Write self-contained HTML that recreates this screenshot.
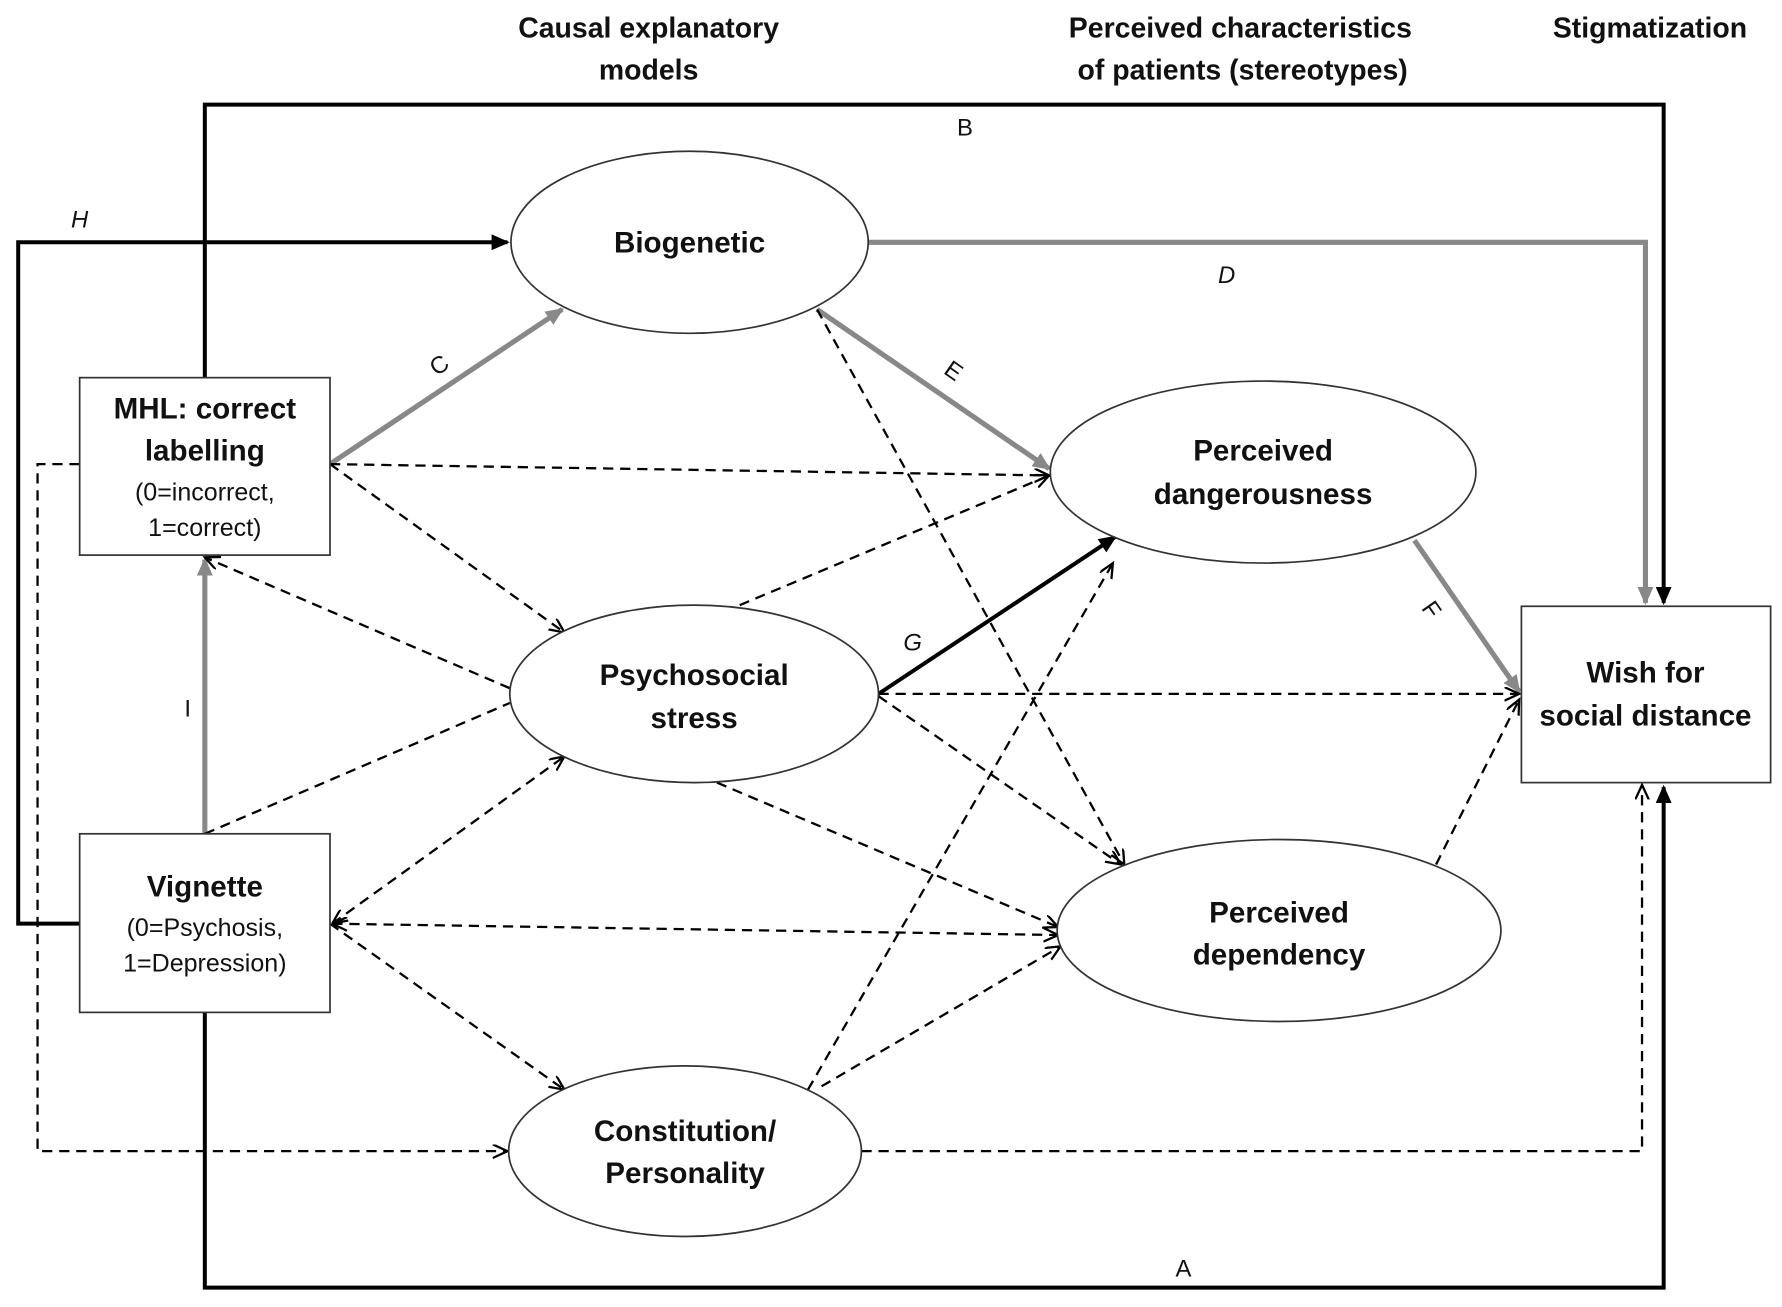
<!DOCTYPE html>
<html><head><meta charset="utf-8"><style>
html,body{margin:0;padding:0;background:#fff;}
svg{display:block;}
text{font-family:"Liberation Sans",sans-serif;fill:#111;}
.h{font-weight:bold;font-size:25px;}
.n{font-weight:bold;font-size:26px;}
.s{font-size:22px;}
.l{font-size:21px;}
</style></head><body>
<svg width="1782" height="1307" viewBox="0 0 1566 1149" preserveAspectRatio="none" xmlns="http://www.w3.org/2000/svg">
<defs>
<marker id="ab" markerWidth="10" markerHeight="10" refX="8" refY="5" orient="auto" markerUnits="userSpaceOnUse"><path d="M0,0 L10,5 L0,10 Z" fill="#000" transform="scale(1.4) translate(-3,-1.4)"/></marker>
<marker id="ag" markerWidth="18" markerHeight="18" refX="14" refY="7" orient="auto" markerUnits="userSpaceOnUse"><path d="M0,0 L16,7 L0,14 Z" fill="#888"/></marker>
<marker id="ak" markerWidth="18" markerHeight="18" refX="14" refY="7" orient="auto" markerUnits="userSpaceOnUse"><path d="M0,0 L16,7 L0,14 Z" fill="#000"/></marker>
<marker id="ad" markerWidth="16" markerHeight="16" refX="13" refY="6" orient="auto" markerUnits="userSpaceOnUse"><path d="M0,0 L13,6 L0,12" fill="none" stroke="#000" stroke-width="2"/></marker>
<marker id="ads" markerWidth="16" markerHeight="16" refX="0" refY="6" orient="auto" markerUnits="userSpaceOnUse"><path d="M13,0 L0,6 L13,12" fill="none" stroke="#000" stroke-width="2"/></marker>
</defs>
<rect width="1566" height="1149" fill="#fff"/>
<g text-anchor="middle">
<text class="h" x="570" y="33">Causal explanatory</text>
<text class="h" x="570" y="70">models</text>
<text class="h" x="1090" y="33">Perceived characteristics</text>
<text class="h" x="1092" y="70">of patients (stereotypes)</text>
<text class="h" x="1450" y="33">Stigmatization</text>
</g>
<!-- solid black -->
<g fill="none" stroke="#000" stroke-width="3.5">
<path d="M180,332 V92 H1462 V530" marker-end="url(#ak)"/>
<path d="M180,890 V1132 H1462 V692" marker-end="url(#ak)"/>
<path d="M70,812 H16 V213 H446" marker-end="url(#ak)"/>
<path d="M772,610 L980,472" marker-end="url(#ak)"/>
</g>
<!-- gray -->
<g fill="none" stroke="#888" stroke-width="4.5">
<path d="M290,408 L494,272" marker-end="url(#ag)"/>
<path d="M763,213 H1446 V530" marker-end="url(#ag)"/>
<path d="M718,272 L922,412" marker-end="url(#ag)"/>
<path d="M1243,475 L1335,608" marker-end="url(#ag)"/>
<path d="M180,733 V492" marker-end="url(#ag)"/>
</g>
<!-- dashed -->
<g fill="none" stroke="#000" stroke-width="2" stroke-dasharray="9,6">
<path d="M70,408 H33 V1012 H446" marker-end="url(#ad)"/>
<path d="M290,408 L922,418" marker-end="url(#ad)"/>
<path d="M290,408 L496,556" marker-end="url(#ad)"/>
<path d="M448,605 L180,490" marker-end="url(#ad)"/>
<path d="M180,733 L448,618"/>
<path d="M292,812 L496,665" marker-start="url(#ads)" marker-end="url(#ad)"/>
<path d="M292,812 L930,822" marker-start="url(#ads)" marker-end="url(#ad)"/>
<path d="M290,812 L496,958" marker-end="url(#ad)"/>
<path d="M650,532 L922,418" marker-end="url(#ad)"/>
<path d="M772,610 L1335,610" marker-end="url(#ad)"/>
<path d="M772,612 L985,760" marker-end="url(#ad)"/>
<path d="M630,688 L930,815" marker-end="url(#ad)"/>
<path d="M718,272 L988,760" marker-end="url(#ad)"/>
<path d="M710,958 L978,495" marker-end="url(#ad)"/>
<path d="M722,955 L932,832" marker-end="url(#ad)"/>
<path d="M757,1012 H1443 V690" marker-end="url(#ad)"/>
<path d="M1262,760 L1335,615" marker-end="url(#ad)"/>
</g>
<!-- nodes -->
<g fill="#fff" stroke="#333" stroke-width="1.5">
<rect x="70" y="332" width="220" height="156"/>
<rect x="70" y="733" width="220" height="157"/>
<rect x="1337" y="533" width="219" height="155"/>
<ellipse cx="606" cy="213" rx="157" ry="80"/>
<ellipse cx="610" cy="610" rx="162" ry="78"/>
<ellipse cx="602" cy="1012" rx="155" ry="75"/>
<ellipse cx="1110" cy="415" rx="187" ry="80"/>
<ellipse cx="1124" cy="818" rx="195" ry="80"/>
</g>
<g text-anchor="middle">
<text class="n" x="180" y="368">MHL: correct</text>
<text class="n" x="180" y="405">labelling</text>
<text class="s" x="180" y="440">(0=incorrect,</text>
<text class="s" x="180" y="471">1=correct)</text>
<text class="n" x="180" y="788">Vignette</text>
<text class="s" x="180" y="823">(0=Psychosis,</text>
<text class="s" x="180" y="854">1=Depression)</text>
<text class="n" x="1446" y="600">Wish for</text>
<text class="n" x="1446" y="638">social distance</text>
<text class="n" x="606" y="222">Biogenetic</text>
<text class="n" x="610" y="602">Psychosocial</text>
<text class="n" x="610" y="640">stress</text>
<text class="n" x="602" y="1003">Constitution/</text>
<text class="n" x="602" y="1040">Personality</text>
<text class="n" x="1110" y="405">Perceived</text>
<text class="n" x="1110" y="443">dangerousness</text>
<text class="n" x="1124" y="811">Perceived</text>
<text class="n" x="1124" y="848">dependency</text>
<text class="l" x="848" y="119">B</text>
<text class="l" x="1040" y="1122">A</text>
<text class="l" x="70" y="200" font-style="italic">H</text>
<text class="l" x="1078" y="249" font-style="italic">D</text>
<text class="l" x="802" y="572" font-style="italic">G</text>
<text class="l" x="165" y="630">I</text>
<text class="l" x="386" y="328" transform="rotate(-35 386 321)">C</text>
<text class="l" x="838" y="333" transform="rotate(35 838 326)">E</text>
<text class="l" x="1258" y="543" transform="rotate(55 1258 536)">F</text>
</g>
</svg>
</body></html>
